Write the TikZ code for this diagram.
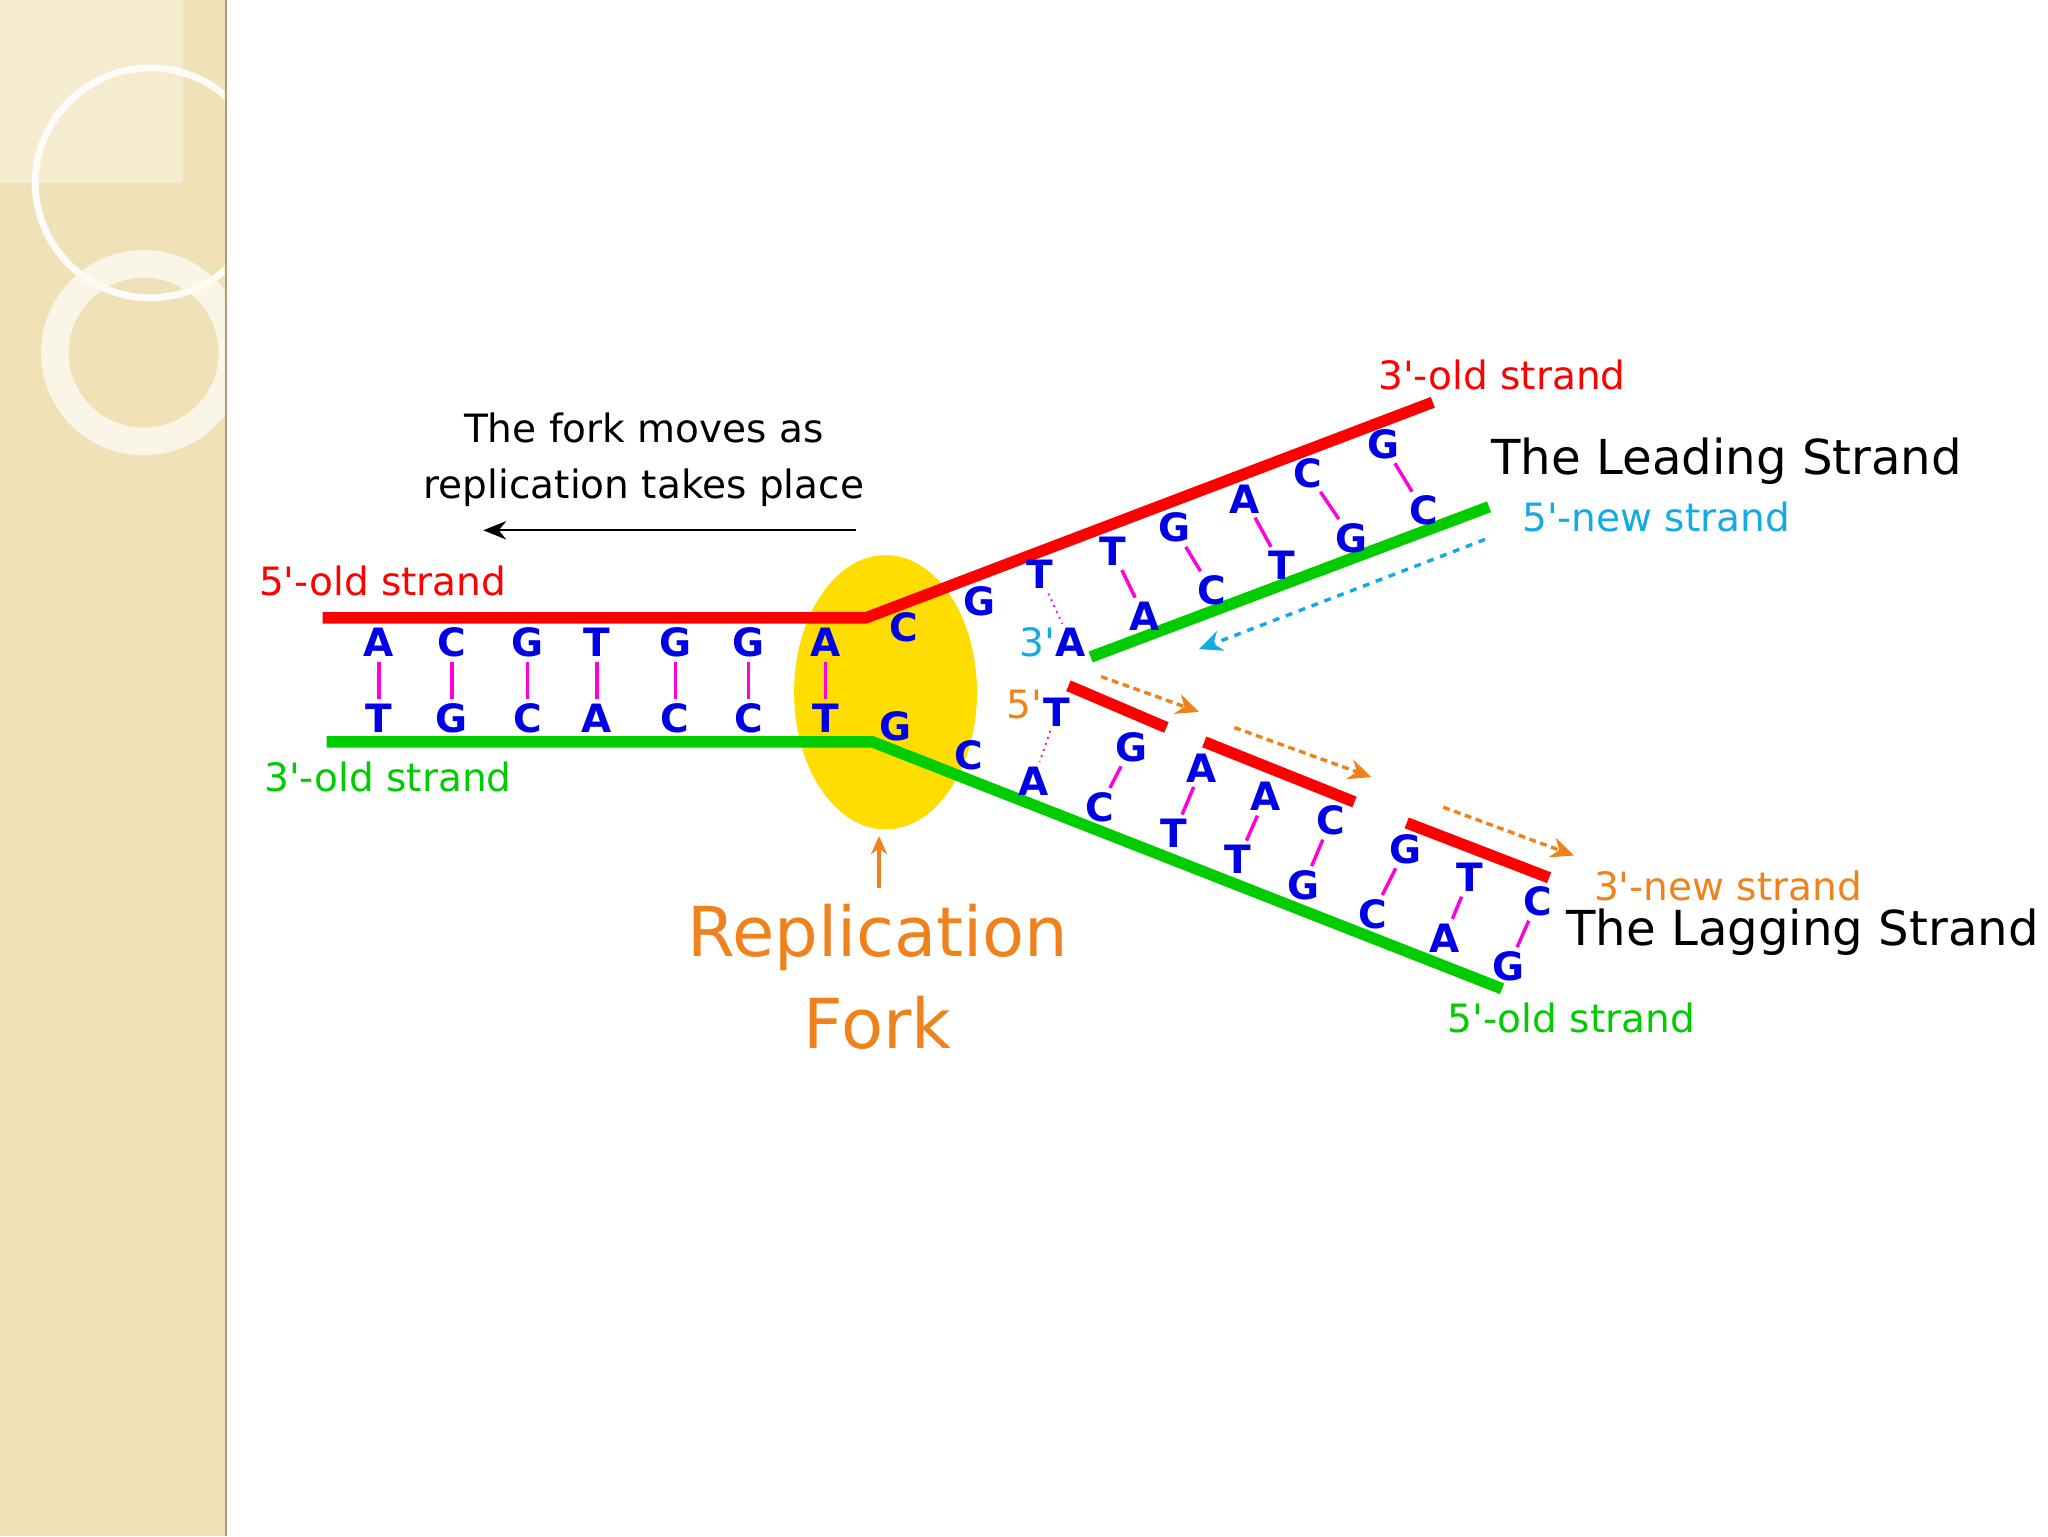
\documentclass[tikz,border=0pt]{standalone}
\usepackage{fontspec}
\setmainfont{DejaVu Sans}
\usetikzlibrary{arrows.meta}
\definecolor{beige}{RGB}{240,226,182}
\definecolor{fred}{RGB}{255,0,0}
\definecolor{fgreen}{RGB}{0,204,0}
\definecolor{fblue}{RGB}{0,0,230}
\definecolor{fpink}{RGB}{255,0,220}
\definecolor{fcyan}{RGB}{20,170,230}
\definecolor{forange}{RGB}{240,130,30}
\definecolor{fyellow}{RGB}{255,221,0}
\newcommand{\pq}{\textquotesingle}
\begin{document}
\begin{tikzpicture}[x=0.2mm,y=-0.2mm,
        base/.style={font=\fontsize{17}{17}\selectfont\bfseries, text=fblue, inner sep=0pt},
        bond/.style={draw=fpink, line width=1.5pt, shorten <=2pt, shorten >=2pt},
        weak/.style={draw=fpink, line width=0.8pt, dotted, shorten <=2pt, shorten >=2pt},
        strand/.style={line width=5pt},
        label/.style={font=\fontsize{17}{20}\selectfont, inner sep=0pt},
        big/.style={font=\fontsize{21}{24}\selectfont, inner sep=0pt}
    ]
    \useasboundingbox (0,0) rectangle (1568,1176);
    % background panel
    \fill[beige] (0,0) rectangle (172,1176);
    \begin{scope}
        \clip (0,0) rectangle (172,1176);
        \fill[white, opacity=0.35] (0,0) rectangle (140,140);
        \draw[white!90!beige, line width=3pt] (115,140) circle (88);
        \draw[white!85!beige, line width=12pt, opacity=0.8] (110,270) circle (68);
    \end{scope}
    \draw[beige!70!black, line width=1pt] (173,0) -- (173,1176);
    % fork
    \fill[fyellow] (678,530) ellipse (70 and 105);
    \draw[strand, fred] (247,473) -- (663,473) -- (1097,308);
    \draw[strand, fgreen] (250,568) -- (668,568) -- (1150,757);
    \draw[strand, fgreen] (835,503) -- (1140,388);
    \draw[strand, fred] (818,525) -- (893,557);
    \draw[strand, fred] (922,568) -- (1037,614);
    \draw[strand, fred] (1077,630) -- (1186,672);
    % left part
    \foreach \t/\b/\x [count=\i] in {A/T/290,C/G/346,G/C/404,T/A/457,G/C/517,G/C/573,A/T/632}{
        \node[base] (lt\i) at (\x,492) {\t};
        \node[base] (lb\i) at (\x,550) {\b};
        \draw[bond] (lt\i) -- (lb\i);
    }
    % leading branch
    \node[base] (c0) at (692,480) {C};
    \node[base] (g0) at (750,460) {G};
    \foreach \t/\tx/\ty/\b/\bx/\by [count=\i] in {T/796/440/A/820/492,T/852/422/A/876/472,G/899/404/C/928/452,A/953/382/T/981/433,C/1001/362/G/1035/412,G/1059/340/C/1090/391}{
        \node[base] (ut\i) at (\tx,\ty) {\t};
        \node[base] (ub\i) at (\bx,\by) {\b};
    }
    \draw[weak] (ut1) -- (ub1);
    \foreach \i in {2,...,6}{\draw[bond] (ut\i) -- (ub\i);}
    % lagging branch
    \node[base] (g1) at (686,556) {G};
    \node[base] (c1) at (742,578) {C};
    \foreach \t/\tx/\ty/\b/\bx/\by [count=\i] in {T/809/545/A/791/598,G/866/572/C/842/618,A/920/588/T/899/638,A/969/610/T/948/658,C/1019/628/G/998/678,G/1076/650/C/1051/700,T/1125/672/A/1106/718,C/1177/690/G/1155/740}{
        \node[base] (dt\i) at (\tx,\ty) {\t};
        \node[base] (db\i) at (\bx,\by) {\b};
    }
    \draw[weak] (dt1) -- (db1);
    \foreach \i in {2,...,8}{\draw[bond] (dt\i) -- (db\i);}
    % end labels
    \node[label, text=fcyan, anchor=east] (p3) at (ub1.west) {3\pq};
    \node[label, text=forange, anchor=east] (p5) at ([yshift=3pt]dt1.west) {5\pq};
    \node[label, text=fred] (otop) at (1150,287) {3\pq-old strand};
    \node[big] (lead) at (1322,353) {The Leading Strand};
    \node[label, text=fcyan] (nlead) at (1268,396) {5\pq-new strand};
    \node[label, text=fred] (oleft) at (293,445) {5\pq-old strand};
    \node[label, text=fgreen] (gleft) at (297,595) {3\pq-old strand};
    \node[label, text=forange] (nlag) at (1323,678) {3\pq-new strand};
    \node[big] (lag) at (1380,714) {The Lagging Strand};
    \node[label, text=fgreen] (obot) at (1203,779) {5\pq-old strand};
    \node[label, align=center, font=\fontsize{17}{24}\selectfont] (moves) at (493,352) {The fork moves as\\replication takes place};
    \node[font=\fontsize{30}{40}\selectfont, text=forange, align=center, inner sep=0pt] (fork) at (672,748) {Replication\\Fork};
    % arrows
    \coordinate (m1) at (655,406); \coordinate (m2) at (370,406);
    \draw[-{Stealth[length=10pt,width=8pt]}, line width=1pt] (m1) -- (m2);
    \coordinate (f1) at (673,680); \coordinate (f2) at (673,640);
    \draw[-{Stealth[length=8pt,width=7pt]}, forange, line width=1.5pt] (f1) -- (f2);
    \coordinate (c1a) at (1137,413); \coordinate (c1b) at (918,497);
    \draw[-{Stealth[length=10pt,width=9pt]}, fcyan, line width=1.5pt, dashed] (c1a) -- (c1b);
    \foreach \a/\b in {{843,518}/{918,545},{945,557}/{1050,595},{1105,618}/{1205,655}}{
        \draw[-{Stealth[length=10pt,width=9pt]}, forange, line width=1.5pt, densely dashed] (\a) -- (\b);
    }
\end{tikzpicture}
\end{document}
